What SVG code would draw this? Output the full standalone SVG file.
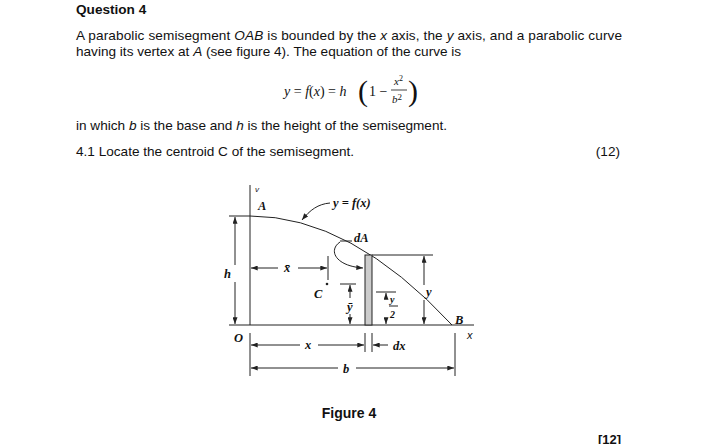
<svg xmlns="http://www.w3.org/2000/svg" width="709" height="444" viewBox="0 0 709 444">
<style>
text{font-family:"Liberation Sans",Arial,sans-serif;fill:#111}
.t{font-size:13.6px}
.m{font-family:"Liberation Serif",serif;font-style:italic;font-size:12.5px;font-weight:bold}
.ln{stroke:#222;stroke-width:1;fill:none}
.ar{stroke:#222;stroke-width:1;fill:none;marker-end:url(#a)}
.e{font-family:"Liberation Serif",serif;font-size:14px}
</style>
<defs><marker id="a" viewBox="0 0 8 6" refX="8" refY="3" markerWidth="7" markerHeight="5" orient="auto"><path d="M0,0L8,3L0,6z" fill="#222"/></marker></defs>
<rect width="709" height="444" fill="#fff"/>
<text x="76" y="14" class="t" font-weight="bold">Question 4</text>
<text x="76" y="40" class="t" textLength="546">A parabolic semisegment <tspan font-style="italic">OAB</tspan> is bounded by the <tspan font-style="italic">x</tspan> axis, the <tspan font-style="italic">y</tspan> axis, and a parabolic curve</text>
<text x="76" y="56" class="t">having its vertex at <tspan font-style="italic">A</tspan> (see figure 4). The equation of the curve is</text>
<g id="eq">
<text x="284" y="96" class="e" font-style="italic">y <tspan font-style="normal">=</tspan> f<tspan font-style="normal">(</tspan>x<tspan font-style="normal">) = </tspan>h</text>
<text x="358" y="101" class="e" style="font-size:30px">(</text>
<text x="369" y="96" class="e">1 −</text>
<text x="394" y="85" class="e" style="font-size:11px" font-style="italic">x<tspan style="font-size:8px" dy="-4" font-style="normal">2</tspan></text>
<line x1="391" y1="90" x2="407" y2="90" stroke="#111" stroke-width="0.8"/>
<text x="392" y="103" class="e" style="font-size:11px" font-style="italic">b<tspan style="font-size:9px" dy="-3" font-style="normal">2</tspan></text>
<text x="408" y="101" class="e" style="font-size:30px">)</text>
</g>
<text x="76" y="130" class="t">in which <tspan font-style="italic">b</tspan> is the base and <tspan font-style="italic">h</tspan> is the height of the semisegment.</text>
<text x="76" y="156" class="t">4.1 Locate the centroid C of the semisegment.</text>
<text x="620" y="156" class="t" text-anchor="end">(12)</text>
<g id="figure">
<path class="ln" d="M250,216 Q351,216 452,325" stroke-width="1.2"/>
<line class="ln" x1="250" y1="185" x2="250" y2="325"/>
<line class="ln" x1="250" y1="325" x2="474" y2="325" stroke-width="1.5"/>
<rect x="365" y="255" width="7" height="70" fill="#ccc" stroke="#222"/>
<text x="255" y="192" font-size="8" font-family="'Liberation Serif',serif" font-style="italic">v</text>
<text class="m" x="258" y="210">A</text>
<text class="m" x="455" y="324">B</text>
<text class="m" x="234" y="342">O</text>
<text x="467" y="339" font-size="11" font-family="'Liberation Serif',serif" font-style="italic">x</text>
<line class="ln" x1="229" y1="216" x2="250" y2="216"/>
<line class="ln" x1="229" y1="325" x2="250" y2="325"/>
<line class="ar" x1="235" y1="265" x2="235" y2="217"/><line class="ar" x1="235" y1="282" x2="235" y2="324"/>
<text class="m" x="224" y="278">h</text>
<line class="ar" x1="278" y1="268" x2="251" y2="268"/><line class="ar" x1="298" y1="268" x2="327" y2="268"/>
<text class="m" x="284" y="272">x̄</text>
<line class="ln" x1="328" y1="256" x2="328" y2="280"/>
<circle cx="327" cy="284" r="1.3" fill="#222"/>
<text class="m" x="314" y="298">C</text>
<line class="ln" x1="340" y1="284" x2="356" y2="284"/>
<line class="ar" x1="350" y1="298" x2="350" y2="285"/><line class="ar" x1="350" y1="314" x2="350" y2="324"/>
<text class="m" x="347" y="311">ȳ</text>
<line class="ln" x1="376" y1="292" x2="396" y2="292"/>
<line class="ar" x1="386" y1="296" x2="386" y2="293"/><line class="ar" x1="386" y1="320" x2="386" y2="324"/>
<text class="m" x="390" y="303" style="font-size:10px">y</text>
<line class="ln" x1="389" y1="306" x2="398" y2="306"/>
<text class="m" x="390" y="318" style="font-size:10px">2</text>
<line class="ln" x1="372" y1="255" x2="433" y2="255"/>
<line class="ar" x1="424" y1="285" x2="424" y2="256"/><line class="ar" x1="424" y1="300" x2="424" y2="324"/>
<text class="m" x="426" y="296">y</text>
<line class="ln" x1="250" y1="333" x2="250" y2="376"/>
<line class="ln" x1="455" y1="333" x2="455" y2="376"/>
<line class="ln" x1="365" y1="333" x2="365" y2="352"/>
<line class="ln" x1="372" y1="333" x2="372" y2="352"/>
<line class="ar" x1="300" y1="345" x2="251" y2="345"/><line class="ar" x1="318" y1="345" x2="364" y2="345"/>
<text class="m" x="305" y="349">x</text>
<line class="ar" x1="388" y1="345" x2="373" y2="345"/>
<text class="m" x="393" y="350">dx</text>
<line class="ar" x1="338" y1="368" x2="251" y2="368"/><line class="ar" x1="356" y1="368" x2="454" y2="368"/>
<text class="m" x="343" y="373">b</text>
<path class="ar" d="M340,242 C328,250 335,266 363,268"/>
<line class="ln" x1="340" y1="241" x2="352" y2="241"/>
<text class="m" x="354" y="242">dA</text>
<path class="ar" d="M330,203 C318,204 310,210 302,220"/>
<text class="m" x="333" y="207">y = f(x)</text>
</g>
<text x="349" y="418" font-size="14" text-anchor="middle" font-weight="600">Figure 4</text>
<text x="598" y="444" font-size="13" font-weight="bold">[12]</text>
</svg>
